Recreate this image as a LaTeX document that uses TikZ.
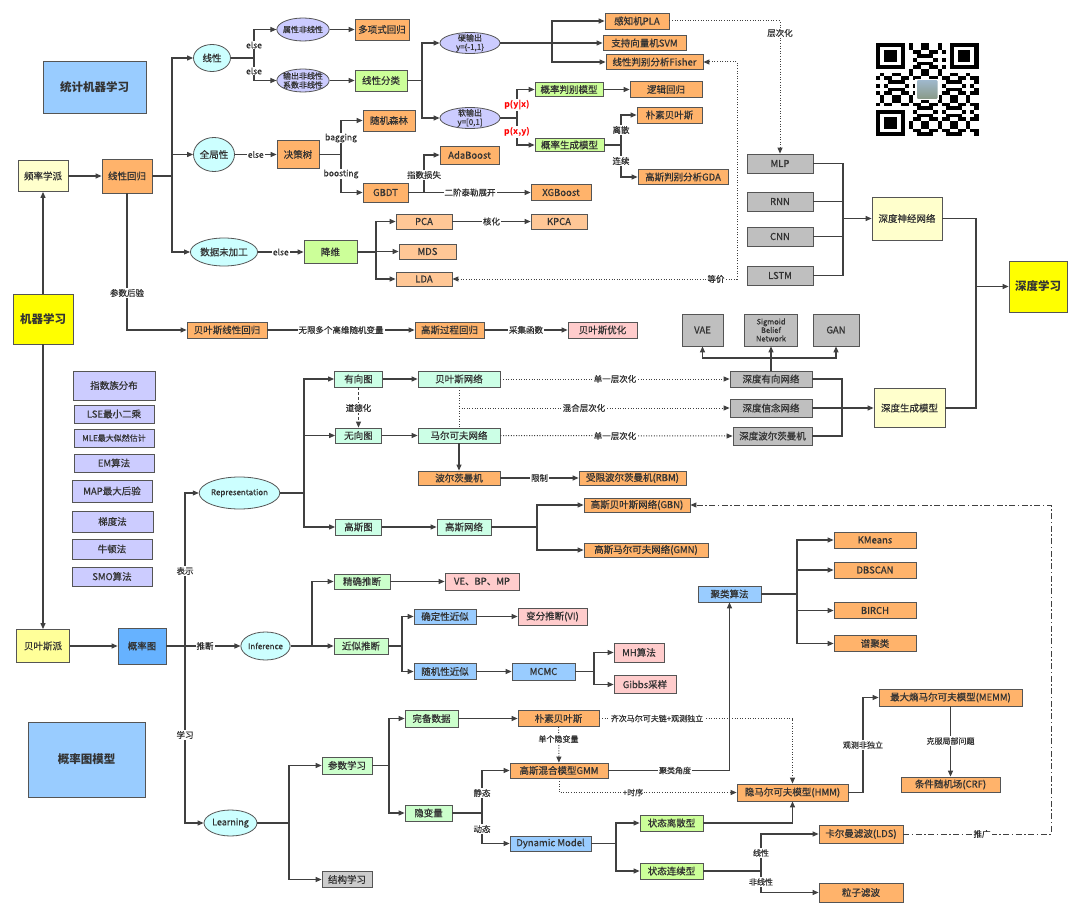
\documentclass[tikz,border=0pt]{standalone}
\usepackage{fontspec}
\setmainfont{Noto Sans CJK SC}
\newfontfamily\mf{Noto Sans CJK SC}[FakeBold=0.6]
\usetikzlibrary{shapes.geometric,arrows.meta}
\definecolor{bdc}{HTML}{555555}
\definecolor{lnc}{HTML}{404040}
\definecolor{txc}{HTML}{333333}
\definecolor{cOrg}{HTML}{FFB36B}
\definecolor{cOrg2}{HTML}{FFC796}
\definecolor{cGrn}{HTML}{CCFF99}
\definecolor{cMnt}{HTML}{CCFFE6}
\definecolor{cLgr}{HTML}{CCFFCC}
\definecolor{cBlu}{HTML}{99CCFF}
\definecolor{cBlu2}{HTML}{66B2FF}
\definecolor{cPnk}{HTML}{FFCCCC}
\definecolor{cGry}{HTML}{BFBFBF}
\definecolor{cGry2}{HTML}{CCCCCC}
\definecolor{cLav}{HTML}{CCCCFF}
\definecolor{cCya}{HTML}{CCFFFF}
\definecolor{cYel}{HTML}{FFFF00}
\definecolor{cLy}{HTML}{FFFFCC}
\definecolor{cLy2}{HTML}{FFFF99}
\definecolor{cQa}{HTML}{9FB8CC}
\definecolor{cQb}{HTML}{8A9A88}
\newcommand\bx[7]{\node[#1,minimum width=#5pt,minimum height=#6pt] (#2) at (#3,#4) {#7};}
\tikzset{
 nb/.style={draw=bdc, line width=0.8pt, inner sep=0.5pt, text=txc, font=\mf\fontsize{9.5}{10.5}\selectfont, align=center},
 org/.style={nb, fill=cOrg},
 org2/.style={nb, fill=cOrg2},
 grn/.style={nb, fill=cGrn},
 mnt/.style={nb, fill=cMnt},
 lgr/.style={nb, fill=cLgr},
 blu/.style={nb, fill=cBlu},
 pnk/.style={nb, fill=cPnk},
 gry/.style={nb, fill=cGry},
 lav/.style={nb, fill=cLav},
 titl/.style={nb, font=\fontsize{11.5}{12.5}\selectfont\bfseries},
 elc/.style={nb, ellipse, inner sep=0pt, fill=cCya},
 ell/.style={nb, ellipse, inner sep=-1.5pt, fill=cLav, font=\mf\fontsize{8}{9}\selectfont},
 ln/.style={draw=lnc, line width=1.1pt},
 ar/.style={ln, -{Triangle[length=6pt,width=5pt]}},
 dt/.style={draw=lnc, line width=1pt, dash pattern=on 1pt off 1.6pt},
 dta/.style={dt, -{Triangle[length=6pt,width=5pt]}},
 dsh/.style={draw=lnc, line width=1pt, dash pattern=on 3pt off 2pt, -{Triangle[length=6pt,width=5pt]}},
 dd/.style={draw=lnc, line width=1pt, dash pattern=on 6pt off 2.5pt on 1.5pt off 2.5pt, -{Triangle[length=6pt,width=5pt]}},
 lb/.style={fill=white, inner sep=1pt, text=txc, font=\mf\fontsize{8.5}{9.5}\selectfont},
 lbs/.style={lb, font=\mf\fontsize{8}{9}\selectfont},
 lbr/.style={fill=white, inner sep=1pt, text=red, font=\fontsize{8.5}{9.5}\selectfont\bfseries},
}
\begin{document}
\begin{tikzpicture}[x=1pt,y=-1pt]
\useasboundingbox (0,0) rectangle (1080,915);
\fill[white] (0,0) rectangle (1080,915);

% ---------- QR code ----------
\begin{scope}[shift={(876,43)},x=4.1pt,y=-3.72pt]
 \foreach \i in {0,...,24}{\foreach \j in {0,...,24}{
   \pgfmathtruncatemacro\v{mod(\i*\i*3+\j*\j*5+\i*\j*7+\i+2*\j+11,7)}
   \ifnum\v<3\relax \fill[black] (\i,\j) rectangle ++(1,1);\fi}}
 \fill[white] (0,0) rectangle (8,8);
 \fill[white] (17,0) rectangle (25,8);
 \fill[white] (0,17) rectangle (8,25);
 \foreach \a/\b in {0/0,18/0,0/18}{
   \fill[black] (\a,\b) rectangle ++(7,7);
   \fill[white] (\a+1,\b+1) rectangle ++(5,5);
   \fill[black] (\a+2,\b+2) rectangle ++(3,3);}
 \fill[white] (9.6,9.6) rectangle (15.4,15.4);
 \shade[top color=cQa,bottom color=cQb,rounded corners=1pt] (10,10) rectangle (15,15);
\end{scope}

% ---------- statistical ML ----------
\bx{titl,fill=cBlu}{tsml}{94.5}{87}{103}{52}{统计机器学习}
\bx{titl,fill=cYel}{jqxx}{43}{319}{60}{50}{机器学习}
\bx{nb,fill=cLy}{pinlv}{43}{176}{50}{31}{频率学派}
\bx{org}{lr}{127}{176}{50}{34}{线性回归}
\bx{elc}{lin}{212}{58}{37}{27}{线性}
\bx{elc}{glob}{214}{154.5}{41}{34}{全局性}
\bx{elc}{raw}{224}{252}{59}{28}{数据未加工}
\bx{ell}{sxnl}{303}{29.5}{52}{23}{属性非线性}
\bx{ell}{scnl}{303}{80.5}{52}{23}{输出非线性\\系数非线性}
\bx{org}{dxs}{382}{29.5}{54}{21}{多项式回归}
\bx{grn}{xxfl}{381}{80.5}{52}{21}{线性分类}
\bx{org}{jcs}{298}{154.5}{42}{28}{决策树}
\bx{org}{sjsl}{389}{120.5}{52}{21}{随机森林}
\bx{org}{gbdt}{385.5}{192.5}{45}{19}{GBDT}
\bx{grn}{jw}{330.5}{252}{53}{23}{降维}
\bx{ell}{ying}{470}{43}{60}{21}{硬输出\\y=\{-1,1\}}
\bx{ell}{ruan}{470}{118}{60}{21}{软输出\\y=[0,1]}
\bx{org}{pla}{637}{21}{64}{16}{感知机PLA}
\bx{org}{svm}{644.5}{43}{83}{15}{支持向量机SVM}
\bx{org}{fisher}{654.5}{62}{97}{15}{线性判别分析Fisher}
\bx{grn}{gldb}{569}{89.5}{68}{14}{概率判别模型}
\bx{org}{ljhg}{666}{89.5}{72}{16}{逻辑回归}
\bx{org}{pbys1}{669.5}{115}{65}{16}{朴素贝叶斯}
\bx{grn}{glsc}{569.5}{145}{69}{13}{概率生成模型}
\bx{org}{gda}{683}{177}{90}{15}{高斯判别分析GDA}
\bx{org}{ada}{469.5}{155}{59}{18}{AdaBoost}
\bx{org}{xgb}{561}{192.5}{60}{16}{XGBoost}
\bx{org2}{pca}{424}{221.5}{56}{15}{PCA}
\bx{org2}{kpca}{559}{221.5}{56}{15}{KPCA}
\bx{org2}{mds}{427.5}{251.5}{57}{15}{MDS}
\bx{org2}{lda}{424}{279}{56}{14}{LDA}
\bx{gry}{mlp}{780}{163.5}{66}{19}{MLP}
\bx{gry}{rnn}{780}{201.5}{66}{19}{RNN}
\bx{gry}{cnn}{780}{236.5}{66}{19}{CNN}
\bx{gry}{lstm}{780}{275.5}{66}{19}{LSTM}
\bx{nb,fill=cLy}{dnn}{907}{218.5}{70}{43}{深度神经网络}
\bx{titl,fill=cYel}{dl}{1038}{286.5}{58}{51}{深度学习}
\bx{org}{bylr}{227}{330}{80}{16}{贝叶斯线性回归}
\bx{org}{gpr}{449.5}{330}{69}{16}{高斯过程回归}
\bx{pnk}{byopt}{602.5}{330}{69}{16}{贝叶斯优化}

% ---------- left list ----------
\bx{lav}{zsz}{114}{385.5}{82}{29}{指数族分布}
\bx{lav}{lse}{114}{414}{80}{18}{LSE最小二乘}
\bx{lav,font=\mf\fontsize{8}{9}\selectfont}{mle}{114}{438}{80}{18}{MLE最大似然估计}
\bx{lav}{em}{114}{463}{80}{18}{EM算法}
\bx{lav}{map}{112}{491}{80}{22}{MAP最大后验}
\bx{lav}{tdf}{112.5}{521.5}{81}{21}{梯度法}
\bx{lav}{ndf}{112}{549}{80}{20}{牛顿法}
\bx{lav}{smo}{112}{576.5}{80}{19}{SMO算法}

% ---------- representation ----------
\bx{elc,font=\mf\fontsize{8}{9}\selectfont}{rep}{239.5}{493}{71}{32}{Representation}
\bx{mnt}{dxt}{358.5}{379}{48}{16}{有向图}
\bx{mnt}{wxt}{358.5}{435.5}{46}{15}{无向图}
\bx{mnt}{gst}{358.5}{527}{46}{16}{高斯图}
\bx{mnt}{bysnet}{459}{379}{82}{16}{贝叶斯网络}
\bx{mnt}{mekf}{459}{435.5}{82}{15}{马尔可夫网络}
\bx{org}{bezm}{459}{478}{82}{14}{波尔茨曼机}
\bx{mnt}{gsnet}{464}{527}{54}{16}{高斯网络}
\bx{org}{rbm}{632.5}{478}{107}{14}{受限波尔茨曼机(RBM)}
\bx{org}{gbn}{637}{505}{106}{14}{高斯贝叶斯网络(GBN)}
\bx{org}{gmn}{646}{550}{124}{14}{高斯马尔可夫网络(GMN)}
\bx{gry}{sdyx}{771}{379}{82}{16}{深度有向网络}
\bx{gry}{sdxn}{771}{408}{82}{18}{深度信念网络}
\bx{gry}{sdbe}{772.5}{436}{79}{18}{深度波尔茨曼机}
\bx{gry}{vae}{702.5}{330}{41}{32}{VAE}
\bx{gry,font=\mf\fontsize{7.5}{8.5}\selectfont}{sbn}{771}{330}{53}{32}{Sigmoid\\Belief\\Network}
\bx{gry}{gan}{836}{330}{46}{32}{GAN}
\bx{nb,fill=cLy}{dgm}{909.5}{408}{71}{39}{深度生成模型}

% ---------- PGM ----------
\bx{nb,fill=cLy2}{bysp}{43}{646}{53}{33}{贝叶斯派}
\bx{nb,fill=cBlu2}{glt}{142}{646}{48}{36}{概率图}
\bx{titl,fill=cBlu}{pgm}{86.5}{759.5}{117}{75}{概率图模型}
\bx{elc,font=\mf\fontsize{8}{9}\selectfont}{inf}{265.5}{646}{49}{28}{Inference}
\bx{elc,font=\mf\fontsize{9}{10}\selectfont}{learn}{230.5}{823}{53}{26}{Learning}
\bx{lgr}{jqtd}{362}{581.5}{56}{15}{精确推断}
\bx{pnk}{vebp}{482}{581.5}{74}{17}{VE、BP、MP}
\bx{lgr}{jstd}{361}{646}{54}{16}{近似推断}
\bx{blu}{qdx}{445}{616.5}{62}{15}{确定性近似}
\bx{pnk}{vi}{552.5}{616.5}{69}{17}{变分推断(VI)}
\bx{blu}{sjx}{445}{671.5}{62}{16}{随机性近似}
\bx{blu}{mcmc}{543.5}{671.5}{63}{17}{MCMC}
\bx{pnk}{mh}{639}{652.5}{50}{19}{MH算法}
\bx{pnk}{gibbs}{645}{684.5}{62}{18}{Gibbs采样}
\bx{lgr}{cs}{347}{765.5}{50}{17}{参数学习}
\bx{nb,fill=cGry2}{jg}{347}{879.5}{50}{16}{结构学习}
\bx{lgr}{wb}{431.5}{718.5}{53}{17}{完备数据}
\bx{lgr}{ybl}{428.5}{813}{47}{16}{隐变量}
\bx{org}{pbys2}{558.5}{718.5}{81}{16}{朴素贝叶斯}
\bx{org}{gmm}{559}{770.5}{98}{15}{高斯混合模型GMM}
\bx{blu}{dyn}{550.5}{843.5}{81}{15}{Dynamic Model}
\bx{grn}{ztls}{671.5}{823}{63}{16}{状态离散型}
\bx{grn}{ztlx}{671.5}{871}{63}{16}{状态连续型}
\bx{org}{hmm}{792.5}{792.5}{111}{17}{隐马尔可夫模型(HMM)}
\bx{org}{memm}{950.5}{697.5}{143}{17}{最大熵马尔可夫模型(MEMM)}
\bx{org}{crf}{950.5}{784.5}{99}{15}{条件随机场(CRF)}
\bx{org}{kalman}{861}{834}{84}{18}{卡尔曼滤波(LDS)}
\bx{org}{lzlb}{861}{892.5}{84}{19}{粒子滤波}
\bx{blu}{jl}{729.5}{594}{63}{16}{聚类算法}
\bx{org}{km}{875}{540}{82}{16}{KMeans}
\bx{org}{dbs}{875}{570}{82}{16}{DBSCAN}
\bx{org}{birch}{875}{610.5}{82}{16}{BIRCH}
\bx{org}{pjl}{875}{643.5}{82}{16}{谱聚类}

% ---------- junctions ----------
\coordinate (jA) at (172,176);
\coordinate (jB) at (254,58);
\coordinate (jC) at (341,154.5);
\coordinate (jD) at (376,252);
\coordinate (jE) at (422,80.5);
\coordinate (jF) at (552,43);
\coordinate (jG) at (517,118);
\coordinate (jH) at (621,145);
\coordinate (jI) at (424,192.5);
\coordinate (jJ) at (843,218.5);
\coordinate (jK) at (976,286.5);
\coordinate (jM) at (185,646);
\coordinate (jN) at (304,493);
\coordinate (jO) at (537,527);
\coordinate (jP) at (842,408);
\coordinate (jQ) at (771,358);
\coordinate (jR) at (312,646);
\coordinate (jS) at (402,646);
\coordinate (jT) at (594,671.5);
\coordinate (jU) at (289,823);
\coordinate (jV) at (389,765.5);
\coordinate (jW) at (482,813);
\coordinate (jX) at (797,594);
\coordinate (jY) at (616,843.5);
\coordinate (jZ) at (761,871);
\coordinate (jHM) at (863,792.5);
\coordinate (jEq) at (737,279);
\coordinate (jKal) at (1051,834);
\coordinate (jMix) at (459,408);

% ---------- connectors: statistical ML ----------
\draw[ar] (pinlv) -- (lr);
\draw[ar] (jqxx) -- (pinlv);
\draw[ar] (jqxx) -- (bysp);
\foreach \t in {lin,glob,raw} \draw[ar] (lr.east) -- (jA) |- (\t.west);
\foreach \t in {sxnl,scnl} \draw[ar] (lin.east) -- (jB) |- (\t.west);
\draw[ar] (sxnl) -- (dxs);
\draw[ar] (scnl) -- (xxfl);
\draw[ar] (glob) -- node[lb](t3){else} (jcs);
\foreach \t in {sjsl,gbdt} \draw[ar] (jcs.east) -- (jC) |- (\t.west);
\draw[ar] (raw) -- node[lb](t6){else} (jw);
\foreach \t in {pca,mds,lda} \draw[ar] (jw.east) -- (jD) |- (\t.west);
\draw[ar] (pca) -- node[lb](t7){核化} (kpca);
\foreach \t in {ying,ruan} \draw[ar] (xxfl.east) -- (jE) |- (\t.west);
\draw[ar] (ying.east) -- (svm.west);
\foreach \t in {pla,fisher} \draw[ar] (ying.east) -- (jF) |- (\t.west);
\foreach \t in {gldb,glsc} \draw[ar] (ruan.east) -- (jG) |- (\t.west);
\draw[ar] (gldb) -- (ljhg);
\foreach \t in {pbys1,gda} \draw[ar] (glsc.east) -- (jH) |- (\t.west);
\draw[ar] (gbdt.east) -- (jI) |- (ada.west);
\draw[ar] (gbdt) -- (xgb);
\draw[dta] (pla.east) -| (mlp.north);
\draw[dt,{Triangle[length=6pt,width=5pt]}-{Triangle[length=6pt,width=5pt]}] (lda.east) -- (jEq) |- (fisher.east);
\foreach \t in {mlp,rnn,cnn,lstm} \draw[ln] (\t.east) -| (jJ);
\draw[ar] (jJ) -- (dnn.west);
\draw[ar] (dnn.east) -| (jK) -- (dl.west);
\draw[ln] (dgm.east) -| (jK);
\draw[ar] (lr.south) |- (bylr.west);
\draw[ar] (bylr) -- node[lb](t20){无限多个高维随机变量} (gpr);
\draw[ar] (gpr) -- node[lb](t21){采集函数} (byopt);

% ---------- connectors: PGM ----------
\draw[ar] (bysp) -- (glt);
\draw[ar] (glt.east) -- (jM) |- (rep.west);
\draw[ar] (glt.east) -- (jM) |- (learn.west);
\draw[ar] (glt.east) -- (inf.west);
\foreach \t in {dxt,wxt,gst} \draw[ar] (rep.east) -- (jN) |- (\t.west);
\draw[ar] (dxt) -- (bysnet);
\draw[ar] (wxt) -- (mekf);
\draw[ar] (gst) -- (gsnet);
\draw[dsh] (dxt) -- (wxt);
\draw[dt] (bysnet) -- (mekf);
\draw[dta] (jMix) -- (sdxn.west);
\draw[dta] (bysnet) -- (sdyx);
\draw[dta] (mekf.east) -- (sdbe.west);
\draw[ar] (mekf) -- (bezm);
\draw[ar] (bezm) -- node[lb](t30){限制} (rbm);
\foreach \t in {gbn,gmn} \draw[ar] (gsnet.east) -- (jO) |- (\t.west);
\draw[ar] (sdyx) -- (sbn);
\draw[ar] (jQ) -| (vae.south);
\draw[ar] (jQ) -| (gan.south);
\draw[ln] (sdyx.east) -| (jP);
\draw[ln] (sdbe.east) -| (jP);
\draw[ar] (sdxn) -- (dgm);
\foreach \t in {jqtd,jstd} \draw[ar] (inf.east) -- (jR) |- (\t.west);
\draw[ar] (jqtd) -- (vebp);
\foreach \t in {qdx,sjx} \draw[ar] (jstd.east) -- (jS) |- (\t.west);
\draw[ar] (qdx) -- (vi);
\draw[ar] (sjx) -- (mcmc);
\foreach \t in {mh,gibbs} \draw[ar] (mcmc.east) -- (jT) |- (\t.west);
\foreach \t in {cs,jg} \draw[ar] (learn.east) -- (jU) |- (\t.west);
\foreach \t in {wb,ybl} \draw[ar] (cs.east) -- (jV) |- (\t.west);
\draw[ar] (wb) -- (pbys2);
\draw[dta] (pbys2.east) -| (hmm.north);
\draw[dta] (pbys2) -- (gmm);
\foreach \t in {gmm,dyn} \draw[ar] (ybl.east) -- (jW) |- (\t.west);
\draw[dta] (gmm.south) |- (hmm.west);
\draw[ar] (gmm.east) -| (jl.south);
\foreach \t in {km,dbs,birch,pjl} \draw[ar] (jl.east) -- (jX) |- (\t.west);
\foreach \t in {ztls,ztlx} \draw[ar] (dyn.east) -- (jY) |- (\t.west);
\draw[ar] (ztls.east) -| (hmm.south);
\foreach \t in {kalman,lzlb} \draw[ar] (ztlx.east) -- (jZ) |- (\t.west);
\draw[ar] (hmm.east) -- (jHM) |- (memm.west);
\draw[ar] (memm) -- (crf);
\draw[dd] (kalman.east) -- (jKal) |- (gbn.east);

% ---------- labels ----------
\node[lb] (t1) at (254,45) {else};
\node[lb] (t2) at (254,71) {else};
\node[lb] (t4) at (341,138) {bagging};
\node[lb] (t5) at (341,174) {boosting};
\node[lbr] (t8) at (517,105) {p(y|x)};
\node[lbr] (t9) at (517,132) {p(x,y)};
\node[lb] (t10) at (621,130) {离散};
\node[lb] (t11) at (621,161) {连续};
\node[lb] (t12) at (424,175) {指数损失};
\node[lb] (t13) at (470,192.5) {二阶泰勒展开};
\node[lb] (t14) at (780,33) {层次化};
\node[lb] (t15) at (716,279) {等价};
\node[lb] (t16) at (127,293) {参数后验};
\node[lb] (t17) at (205,646) {推断};
\node[lb] (t18) at (185,571) {表示};
\node[lb] (t19) at (185,735) {学习};
\node[lb] (t22) at (358.5,408) {道德化};
\node[lb] (t23) at (615,379) {单一层次化};
\node[lb] (t24) at (584,408) {混合层次化};
\node[lb] (t25) at (615,436) {单一层次化};
\node[lbs] (t26) at (657,718.5) {齐次马尔可夫链+观测独立};
\node[lbs] (t27) at (558.5,739) {单个隐变量};
\node[lb] (t28) at (482,793) {静态};
\node[lb] (t29) at (482,829) {动态};
\node[lbs] (t31) at (633,792.5) {+时序};
\node[lbs] (t32) at (675,770.5) {聚类角度};
\node[lbs] (t33) at (761,853) {线性};
\node[lbs] (t34) at (761,882) {非线性};
\node[lbs] (t35) at (863,745) {观测非独立};
\node[lbs] (t36) at (950.5,741) {克服局部问题};
\node[lb] (t37) at (982,834) {推广};
\end{tikzpicture}
\end{document}
